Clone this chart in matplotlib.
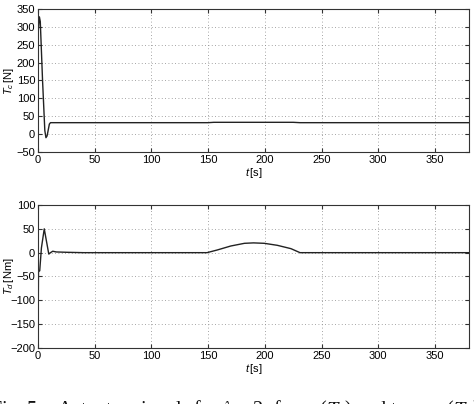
import matplotlib
matplotlib.use("Agg")
import matplotlib.pyplot as plt

# ---- data ----
tc_time = [0, 1.2, 2.0, 4.0, 6.0, 7.0, 8.0, 10.0, 11.0, 20, 150, 155, 225, 231, 380]
tc_vals = [280, 328, 315, 150, 10, -10, -5, 28, 32, 32, 32, 33, 33, 32, 32]

td_time = [0, 0.4, 1.5, 3.0, 5.5, 7.0, 9.5, 11.0, 13.0, 16.0, 25.0, 40.0,
           149, 158, 170, 182, 190, 199.5, 211, 223, 231, 380]
td_vals = [-200, -40, -38, 10, 50, 30, -3, 0, 3, 1.5, 0.8, 0,
           0, 5.6, 14, 19.6, 20.5, 19.6, 15.4, 8.4, 0, 0]

x_ticks = [0, 50, 100, 150, 200, 250, 300, 350]
tc_yticks = [-50, 0, 50, 100, 150, 200, 250, 300, 350]
td_yticks = [-200, -150, -100, -50, 0, 50, 100]

caption = r"Fig. 5.   Actuator signals for $\lambda$ = 2: force ($T_c$) and torque ($T_d$)"

plt.rcParams['font.family'] = ['Liberation Sans', 'DejaVu Sans']
plt.rcParams['mathtext.fontset'] = 'custom'
plt.rcParams['mathtext.it'] = 'Liberation Sans:italic'
plt.rcParams['mathtext.rm'] = 'Liberation Sans'

fig = plt.figure(figsize=(4.74, 4.04), dpi=100)
ax1 = fig.add_axes([0.0802, 0.6238, 0.9093, 0.3539])
ax2 = fig.add_axes([0.0802, 0.1386, 0.9093, 0.3540])

def style(ax, yticks, ylim):
    ax.set_xlim(0, 380)
    ax.set_ylim(*ylim)
    ax.set_xticks(x_ticks)
    ax.set_yticks(yticks)
    ax.set_yticklabels([str(v).replace('-', '\u2212') for v in yticks])
    ax.grid(True, linestyle=(0, (1, 3)), color='#888888', linewidth=0.6)
    ax.tick_params(direction='in', length=3, labelsize=8, pad=2, color='#333333',
                   top=True, right=True)
    for s in ax.spines.values():
        s.set_color('#333333')
        s.set_linewidth(0.8)
    ax.set_xlabel(r"$t\,$[s]", fontsize=8, labelpad=1)
    ax.yaxis.set_label_coords(-0.051, 0.5)

ax1.plot(tc_time, tc_vals, color='#222222', linewidth=1.0)
style(ax1, tc_yticks, (-50, 350))
ax1.set_ylabel(r"$T_c\,$[N]", fontsize=8)

ax2.plot(td_time, td_vals, color='#222222', linewidth=1.0)
style(ax2, td_yticks, (-200, 100))
ax2.set_ylabel(r"$T_d\,$[Nm]", fontsize=8)

fig.text(-0.022, 1 - 398 / 404, caption, family='Liberation Serif', fontsize=14.5,
         math_fontfamily='stix', va='top', ha='left', color='#111111')

fig.savefig("out.png", dpi=100)
